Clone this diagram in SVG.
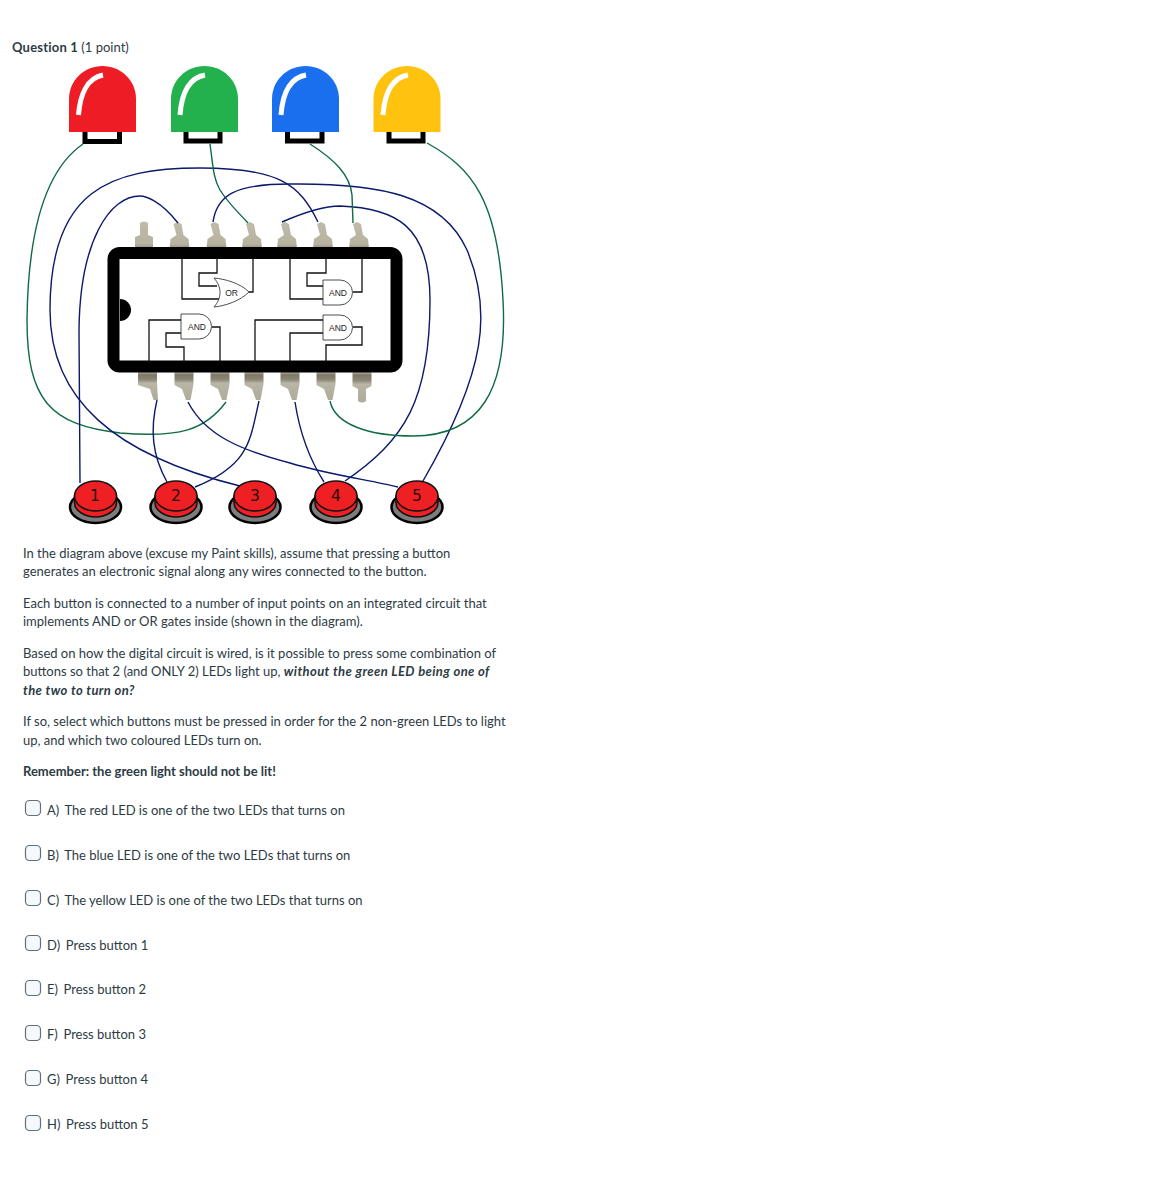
<svg xmlns="http://www.w3.org/2000/svg" xmlns:xlink="http://www.w3.org/1999/xlink" width="1150" height="1181" viewBox="0 0 1150 1181">
<style>
text{font-family:"Lato","Liberation Sans",sans-serif;font-size:13px;fill:#2d3b45}
.b{font-weight:700}
.bi{font-weight:700;font-style:italic;letter-spacing:.39px}
.leg{fill:none;stroke:#000;stroke-width:5}
.hl{fill:none;stroke:#fff;stroke-width:5;stroke-linecap:butt}
.w{fill:none;stroke-width:1.4}
.n{stroke:#0b1a6b}
.g{stroke:#0e6b42}
.pinT{fill:url(#pt)}
.pinB{fill:url(#pb)}
.cw{fill:none;stroke:#111;stroke-width:1.3}
.gate{fill:#fff;stroke:#222;stroke-width:.8}
.gt{font-family:"Liberation Sans",Arial,sans-serif;font-size:8.5px;fill:#222;text-anchor:middle}
.bl{font-family:"DejaVu Sans",sans-serif;font-size:15.5px;fill:#2a0808;text-anchor:middle}
.cb{fill:#f6f9fc;stroke:#5f6f7d;stroke-width:1.2}
</style>
<defs>
<linearGradient id="pt" x1="0" y1="0" x2="0" y2="1"><stop offset="0" stop-color="#c0bbaa"/><stop offset=".85" stop-color="#b8b2a0"/><stop offset="1" stop-color="#98927f"/></linearGradient>
<linearGradient id="pb" x1="0" y1="0" x2="0" y2="1"><stop offset="0" stop-color="#bdb9a8"/><stop offset=".1" stop-color="#7d7767"/><stop offset=".28" stop-color="#8d8877"/><stop offset=".4" stop-color="#b9b6a5"/><stop offset="1" stop-color="#aeab9c"/></linearGradient>
<path id="tS" class="pinT" d="M-9,0L-9,-11L-4,-13L-4,-25Q0,-28 4,-25L4,-13L9,-11L9,0Z"/>
<path id="tB" class="pinT" d="M-10,0L-9,-9L-3,-13L-6,-24L-2,-26L2,-24L4,-13L9,-9L10,0Z"/>
<path id="bB1" class="pinB" d="M-9.500,0L-9.500,13L2.500,17L6,28L10.500,28L9.500,11L9.500,0Z"/>
<path id="bB" class="pinB" d="M-9.500,0L-9.500,13L-2,17L2,28L6.500,28L9.500,12L9.500,0Z"/>
<path id="bS" class="pinB" d="M-9.500,0L-9.500,14L-4,17L-4,29Q0,32 4,29L4,17L9.500,14L9.500,0Z"/>
<g id="btn">
<ellipse cx="0" cy="12" rx="25.500" ry="16" fill="#7c7c7c" stroke="#000" stroke-width="2.500"/>
<path d="M-21,1V8C-21,16 -10,22 0,22C10,22 21,16 21,8V1Z" fill="#ee2024" stroke="#111" stroke-width="1.500"/>
<ellipse cx="0" cy="1" rx="21" ry="15" fill="#ee2024" stroke="#111" stroke-width="1.500"/>
</g>
<path id="dome" d="M-33.500,66V33C-33.500,14 -18,0 0,0C18,0 33.500,14 33.500,33V66Z"/>
</defs>
<rect width="1150" height="1181" fill="#fff"/>

<text x="12" y="52"><tspan class="b" letter-spacing=".2">Question 1</tspan> (1 point)</text>

<g id="led-red"><use xlink:href="#dome" x="102.500" y="66" fill="#ee1c25"/><path class="leg" d="M85,132V141.500H119.500V132"/><path class="hl" d="M78.500,115C80,95 87,78 103,75"/></g>
<g id="led-green"><use xlink:href="#dome" x="204.500" y="66" fill="#22b14c"/><path class="leg" d="M186,132V141H220V132"/><path class="hl" d="M180,115C181.500,95 188,78 205,75"/></g>
<g id="led-blue"><use xlink:href="#dome" x="305.500" y="66" fill="#1a6fef"/><path class="leg" d="M287.500,132V141H322V132"/><path class="hl" d="M281,115C282.500,95 289,78 306,75"/></g>
<g id="led-yellow"><use xlink:href="#dome" x="407" y="66" fill="#ffc20e"/><path class="leg" d="M389,132V141H423V132"/><path class="hl" d="M383,115C384.500,95 391,78 408,75"/></g>

<g id="chip">
<use xlink:href="#tS" x="144" y="248"/><use xlink:href="#tB" x="179.500" y="248"/><use xlink:href="#tB" x="216.500" y="248"/><use xlink:href="#tB" x="252" y="248"/><use xlink:href="#tB" x="287" y="248"/><use xlink:href="#tB" x="323" y="248"/><use xlink:href="#tB" x="359" y="248"/>
<use xlink:href="#bB1" x="147.500" y="372"/><use xlink:href="#bB" x="184" y="372"/><use xlink:href="#bB" x="220" y="372"/><use xlink:href="#bB" x="254" y="372"/><use xlink:href="#bB" x="290" y="372"/><use xlink:href="#bB" x="326" y="372"/><use xlink:href="#bS" x="362" y="372"/>
<rect x="113.500" y="253" width="283" height="113.500" rx="6" fill="#fff" stroke="#000" stroke-width="12"/>
<path d="M120,299A11,11 0 0 1 120,321Z" fill="#000"/>
<path class="cw" d="M182,258V299H220M217,258V273H199V286H217M249,292H253V258"/>
<path class="cw" d="M290,258V299H323M326,258V273H307V286H323M353,292H362V258"/>
<path class="cw" d="M149,361V320H181M184,361V347H166V333H181M212,327H220V361"/>
<path class="cw" d="M255,361V320H323M290,361V333H323M353,327H362V345H326V361"/>
</g>
<g id="gate-or"><path class="gate" d="M214,278C225,279 240,283 249,292C240,301 225,306 214,307C222,298 222,287 214,278Z"/><text class="gt" x="231.500" y="295.500">OR</text></g>
<g id="gate-and-1"><path class="gate" d="M323,280H340A12.500,12.500 0 0 1 340,305H323Z"/><text class="gt" x="338" y="296">AND</text></g>
<g id="gate-and-2"><path class="gate" d="M181,314H199A12.500,12.500 0 0 1 199,339H181Z"/><text class="gt" x="197" y="330">AND</text></g>
<g id="gate-and-3"><path class="gate" d="M323,315H340A12.500,12.500 0 0 1 340,340H323Z"/><text class="gt" x="338" y="330.500">AND</text></g>

<g id="connectors">
<path class="w g" d="M83,144C45,170 28,230 27,320C27,400 50,425 120,433C180,438 205,430 226,402"/>
<path class="w n" d="M318,222C300,185 280,168 200,168C110,168 50,190 50,310C50,400 115,455 240,486"/>
<path class="w n" d="M178,223C160,200 145,196 140,196C110,196 80,240 79,330L80,483"/>
<path class="w g" d="M210,144C213,165 213,178 220,190C228,203 238,212 248,223"/>
<path class="w n" d="M213,222C217,195 235,184 290,184C380,183 442,195 467,250C492,310 487,370 423,481"/>
<path class="w n" d="M282,222C305,212 325,206 340,206C395,208 430,225 430,300C430,400 405,440 345,481"/>
<path class="w g" d="M310,144C335,160 350,175 352,195L353,223"/>
<path class="w g" d="M427,143C472,168 498,200 503,300C508,390 480,436 413,436C370,436 335,425 330,401"/>
<path class="w n" d="M157,400C150,430 152,455 167,482"/>
<path class="w n" d="M188,402C205,435 240,450 290,463C330,475 370,480 398,487"/>
<path class="w n" d="M259,401C250,440 250,465 195,487"/>
<path class="w n" d="M295,402C300,435 310,460 324,482"/>
</g>

<g id="button-1"><use xlink:href="#btn" x="95.500" y="495"/><text class="bl" x="95" y="501">1</text></g>
<g id="button-2"><use xlink:href="#btn" x="176" y="495"/><text class="bl" x="176" y="501">2</text></g>
<g id="button-3"><use xlink:href="#btn" x="255" y="495"/><text class="bl" x="255" y="501">3</text></g>
<g id="button-4"><use xlink:href="#btn" x="336" y="495"/><text class="bl" x="336" y="501">4</text></g>
<g id="button-5"><use xlink:href="#btn" x="417" y="495"/><text class="bl" x="417" y="501">5</text></g>

<text x="23" y="558">In the diagram above (excuse my Paint skills), assume that pressing a button</text>
<text x="23" y="576">generates an electronic signal along any wires connected to the button.</text>
<text x="23" y="608">Each button is connected to a number of input points on an integrated circuit that</text>
<text x="23" y="626">implements AND or OR gates inside (shown in the diagram).</text>
<text x="23" y="658">Based on how the digital circuit is wired, is it possible to press some combination of</text>
<text x="23" y="676">buttons so that 2 (and ONLY 2) LEDs light up, <tspan class="bi">without the green LED being one of</tspan></text>
<text x="23" y="695" class="bi">the two to turn on?</text>
<text x="23" y="726">If so, select which buttons must be pressed in order for the 2 non-green LEDs to light</text>
<text x="23" y="745">up, and which two coloured LEDs turn on.</text>
<text x="23" y="776" class="b">Remember: the green light should not be lit!</text>

<rect class="cb" x="25.500" y="800.500" width="15" height="15" rx="4"/><text x="47" y="815">A) <tspan dx="2.300">The red LED is one of the two LEDs that turns on</tspan></text>
<rect class="cb" x="25.500" y="845.500" width="15" height="15" rx="4"/><text x="47" y="860">B) <tspan dx="2.300">The blue LED is one of the two LEDs that turns on</tspan></text>
<rect class="cb" x="25.500" y="890.500" width="15" height="15" rx="4"/><text x="47" y="905">C) <tspan dx="2.300">The yellow LED is one of the two LEDs that turns on</tspan></text>
<rect class="cb" x="25.500" y="935.500" width="15" height="15" rx="4"/><text x="47" y="950">D) <tspan dx="2.300">Press button 1</tspan></text>
<rect class="cb" x="25.500" y="980.500" width="15" height="15" rx="4"/><text x="47" y="994">E) <tspan dx="2.300">Press button 2</tspan></text>
<rect class="cb" x="25.500" y="1025.500" width="15" height="15" rx="4"/><text x="47" y="1039">F) <tspan dx="2.300">Press button 3</tspan></text>
<rect class="cb" x="25.500" y="1070.500" width="15" height="15" rx="4"/><text x="47" y="1084">G) <tspan dx="2.300">Press button 4</tspan></text>
<rect class="cb" x="25.500" y="1115.500" width="15" height="15" rx="4"/><text x="47" y="1129">H) <tspan dx="2.300">Press button 5</tspan></text>
</svg>
